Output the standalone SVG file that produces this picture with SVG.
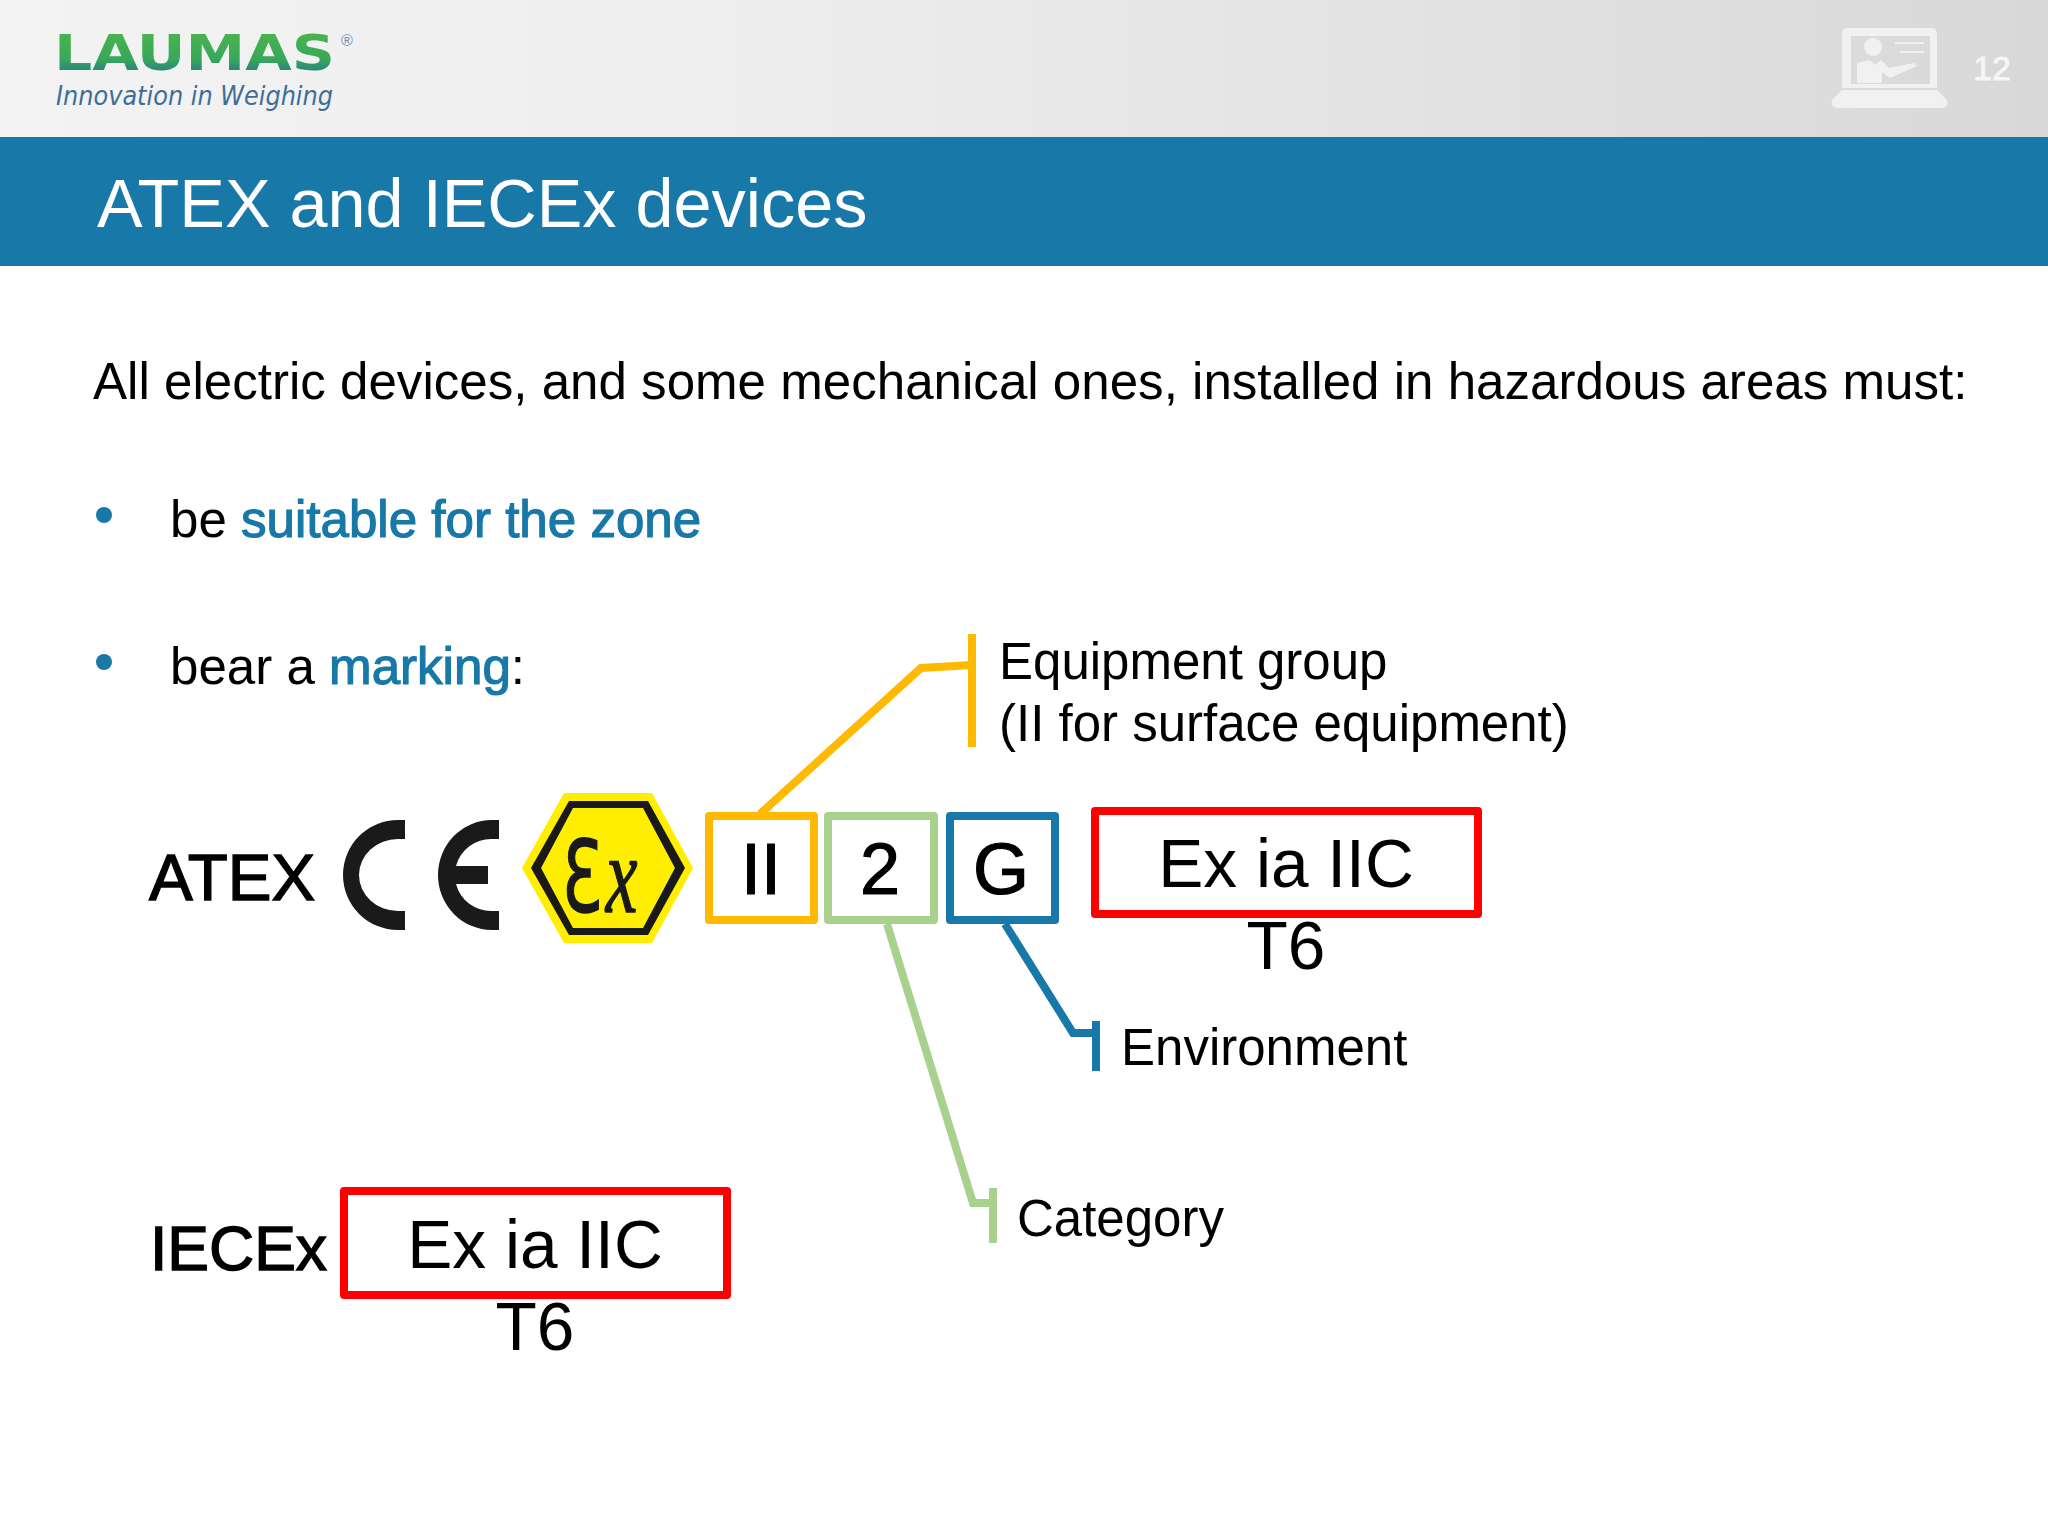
<svg xmlns="http://www.w3.org/2000/svg" width="2048" height="1536" viewBox="0 0 2048 1536">
<defs>
<linearGradient id="hdr" x1="0" y1="0" x2="1" y2="0"><stop offset="0" stop-color="#f3f3f3"/><stop offset="0.35" stop-color="#eeeeee"/><stop offset="1" stop-color="#d8d8d8"/></linearGradient>
<linearGradient id="logo" x1="0" y1="0" x2="0" y2="1"><stop offset="0" stop-color="#4fb84a"/><stop offset="0.6" stop-color="#38a85a"/><stop offset="0.85" stop-color="#2a7f80"/><stop offset="1" stop-color="#235f8c"/></linearGradient>
</defs>
<style>
text{font-family:"Liberation Sans",Arial,sans-serif;fill:#000}
.body{font-size:51.1px}
.hl{fill:#1878a8;stroke:#1878a8;stroke-width:1.2px}
.lab{font-size:51px}
.big{font-size:67.6px;text-anchor:middle}
.mk{font-size:72px;text-anchor:middle;stroke:#000;stroke-width:1.2px}
.bold{stroke:#000;stroke-width:1.4px}
.box{fill:#fff;stroke-width:8;stroke-linejoin:round}
.con{fill:none;stroke-width:8;stroke-linejoin:miter}
.icon{fill:#f1f1f1}
</style>
<g id="header">
<rect x="0" y="0" width="2048" height="138" fill="url(#hdr)"/>
<rect x="0" y="137" width="2048" height="129" fill="#1878a8"/>
<text x="97" y="227" font-size="68.4" style="fill:#fff">ATEX and IECEx devices</text>
</g>
<g id="logo-mark">
<text x="54" y="70" font-size="50" font-weight="bold" textLength="281" lengthAdjust="spacingAndGlyphs" style="font-family:'DejaVu Sans',sans-serif;fill:url(#logo)">LAUMAS</text>
<text x="341" y="46" font-size="16" style="fill:#6f8fb5">®</text>
<text x="56" y="105" font-size="27" font-style="italic" textLength="277" lengthAdjust="spacingAndGlyphs" style="font-family:'DejaVu Sans',sans-serif;fill:#3d6e98">Innovation in Weighing</text>
</g>
<g id="laptop-icon" class="icon">
<path fill-rule="evenodd" d="M1848 28H1931Q1937 28 1937 34V88H1842V34Q1842 28 1848 28ZM1851 36V84H1930V36Z"/>
<path d="M1842 90H1937L1947 100Q1949 108 1942 108H1838Q1830 108 1832 100Z"/>
<circle cx="1873" cy="47" r="9"/>
<path d="M1857 63L1870 60L1875 65L1881 60L1889 68L1914 63L1917 66L1890 78L1882 72V83H1857Z"/>
<rect x="1895" y="42" width="29" height="2"/><rect x="1900" y="51" width="24" height="2"/>
</g>
<text id="page-number" x="1973" y="80" font-size="34" stroke="#f6f6f6" stroke-width=".8" style="fill:#f6f6f6">12</text>
<g id="intro">
<text class="body" x="93" y="399">All electric devices, and some mechanical ones, installed in hazardous areas must:</text>
<circle cx="104" cy="515" r="8" fill="#1878a8"/>
<text class="body" x="170" y="537">be <tspan class="hl">suitable for the zone</tspan></text>
<circle cx="104" cy="662" r="8" fill="#1878a8"/>
<text class="body" x="170" y="684">bear a <tspan class="hl">marking</tspan>:</text>
</g>
<g id="connectors">
<path class="con" stroke="#ffb900" d="M760 814L921 668L972 665"/>
<path class="con" stroke="#ffb900" d="M972 634V747"/>
<path class="con" stroke="#a9d18e" d="M887 924L973 1203H993"/>
<path class="con" stroke="#a9d18e" d="M993 1188V1243"/>
<path class="con" stroke="#1878a8" d="M1005 924L1073 1033H1096"/>
<path class="con" stroke="#1878a8" d="M1096 1021V1071"/>
</g>
<g id="atex-label"><text class="bold" font-size="65.5" x="149" y="900">ATEX</text></g>
<g id="ce-mark" fill="#1a1a1a">
<path d="M405 820H398A55 55 0 0 0 398 930H405V911H398A39 36 0 0 1 398 839H405Z"/>
<path d="M499 820H492A54 55 0 0 0 492 930H499V911H492A36 36 0 0 1 456 884H488V866H456A36 36 0 0 1 492 839H499Z"/>
</g>
<g id="ex-mark">
<polygon points="522,868 564,793 652,793 693,868 652,943 564,943" fill="#ffee00"/>
<polygon points="531,868 569,801 648,801 685,868 648,935 569,935" fill="#1a1a1a"/>
<polygon points="541,868 573,808 643,808 675,868 643,928 573,928" fill="#ffee00"/>
<text transform="translate(562 912) scale(.65 1)" font-size="100" stroke="#1a1a1a" stroke-width="1.5" style="font-family:'DejaVu Sans',sans-serif;fill:#1a1a1a">Ɛ<tspan dx="6" font-size="110" font-style="italic" style="font-family:'Liberation Serif',serif;fill:#1a1a1a">x</tspan></text>
</g>
<g id="box-group"><rect class="box" stroke="#ffb900" x="709" y="816" width="105" height="104"/><text class="mk" x="761" y="894">II</text></g>
<g id="box-category"><rect class="box" stroke="#a9d18e" x="828" y="816" width="106" height="104"/><text class="mk" x="880" y="894">2</text></g>
<g id="box-environment"><rect class="box" stroke="#1878a8" x="950" y="816" width="105" height="104"/><text class="mk" x="1001" y="894">G</text></g>
<g id="box-atex-ex"><rect class="box" stroke="#ff0000" x="1095" y="811" width="383" height="103"/><text class="big" x="1286" y="887">Ex ia IIC</text><text class="big" x="1286" y="969">T6</text></g>
<g id="label-group"><text class="lab" x="999" y="679">Equipment group</text><text class="lab" x="999" y="741">(II for surface equipment)</text></g>
<g id="label-environment"><text class="lab" x="1121" y="1065">Environment</text></g>
<g id="label-category"><text class="lab" x="1017" y="1236">Category</text></g>
<g id="iecex-label"><text class="bold" font-size="62.5" x="150" y="1270">IECEx</text></g>
<g id="box-iecex-ex"><rect class="box" stroke="#ff0000" x="344" y="1191" width="383" height="104"/><text class="big" x="535" y="1268">Ex ia IIC</text><text class="big" x="535" y="1350">T6</text></g>
</svg>
